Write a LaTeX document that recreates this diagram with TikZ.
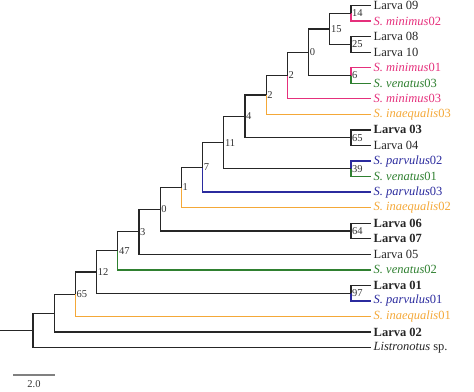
\documentclass[tikz,border=0pt]{standalone}
\usepackage{fontspec}
\setmainfont{Liberation Serif}

\definecolor{cblk}{HTML}{262626}
\definecolor{cmin}{HTML}{E5307C}
\definecolor{cven}{HTML}{2F8030}
\definecolor{cpar}{HTML}{2B2B9E}
\definecolor{cina}{HTML}{F4A838}

\tikzset{
	br/.style={line width=1.3pt},
	sup/.style={font=\fontsize{10.5}{11}\selectfont, text=black!80, inner sep=1pt},
	leaf/.style={anchor=west, inner sep=2.5pt, font=\fontsize{12.5}{13}\selectfont},
}

\begin{document}
\begin{tikzpicture}[x=1pt, y=-1pt]
	\useasboundingbox (0,0) rectangle (474,391);
	
	% --- Các lá (tên mẫu) ---
	\foreach \n/\y/\c/\t in {
		l09/5.5/cblk/{Larva 09},
		smii/21.05/cmin/{\textit{S. minimus}02},
		l08/36.6/cblk/{Larva 08},
		l10/52.15/cblk/{Larva 10},
		smi/67.7/cmin/{\textit{S. minimus}01},
		sviii/83.25/cven/{\textit{S. venatus}03},
		smiii/98.8/cmin/{\textit{S. minimus}03},
		siiii/114.35/cina/{\textit{S. inaequalis}03},
		l03/129.9/cblk/{\textbf{Larva 03}},
		l04/145.45/cblk/{Larva 04},
		spii/161.0/cpar/{\textit{S. parvulus}02},
		svi/176.55/cven/{\textit{S. venatus}01},
		spiii/192.1/cpar/{\textit{S. parvulus}03},
		siii/207.65/cina/{\textit{S. inaequalis}02},
		l06/223.2/cblk/{\textbf{Larva 06}},
		l07/238.75/cblk/{\textbf{Larva 07}},
		l05/254.3/cblk/{Larva 05},
		svii/269.85/cven/{\textit{S. venatus}02},
		l01/285.4/cblk/{\textbf{Larva 01}},
		spi/300.95/cpar/{\textit{S. parvulus}01},
		sii/316.5/cina/{\textit{S. inaequalis}01},
		l02/332.05/cblk/{\textbf{Larva 02}},
		lis/347.6/cblk/{\textit{Listronotus} sp.}}
	{
		\node[leaf, text=\c] (\n) at (371,\y) {\t};
	}
	
	% --- Các nút trong (giá trị bootstrap) ---
	\coordinate[label={[sup]right:14}] (c14) at (351,13.3);
	\coordinate[label={[sup]right:25}] (c25) at (351,44.4);
	\coordinate[label={[sup]right:15}] (c15) at (329.8,28.85);
	\coordinate[label={[sup]right:6}] (c6) at (351,75.5);
	\coordinate[label={[sup]right:0}] (c0a) at (308.6,52.2);
	\coordinate[label={[sup]right:2}] (c2a) at (287.4,75.5);
	\coordinate[label={[sup]right:2}] (c2b) at (266.2,94.9);
	\coordinate[label={[sup]right:65}] (c65a) at (351,137.7);
	\coordinate[label={[sup]right:4}] (c4) at (245,116.3);
	\coordinate[label={[sup]right:39}] (c39) at (351,168.8);
	\coordinate[label={[sup]right:11}] (c11) at (223.8,142.55);
	\coordinate[label={[sup]right:7}] (c7) at (202.6,167.3);
	\coordinate[label={[sup]right:1}] (c1) at (181.4,187.5);
	\coordinate[label={[sup]right:64}] (c64) at (351,231);
	\coordinate[label={[sup]right:0}] (c0b) at (160.2,209.2);
	\coordinate[label={[sup]right:3}] (c3) at (139,231.75);
	\coordinate[label={[sup]right:47}] (c47) at (117.8,250.8);
	\coordinate[label={[sup]right:97}] (c97) at (351,293.2);
	\coordinate[label={[sup]right:12}] (c12) at (96.6,272);
	\coordinate[label={[sup]right:65}] (c65b) at (75.4,294.25);
	\coordinate (c55) at (54.2,313.15);
	\coordinate (croot) at (33,330.4);
	\coordinate (cstem) at (0,330.4);
	
	% --- Các nhánh: cha |- con ---
	\foreach \p/\k/\c in {
		c14/l09.west/cblk, c14/smii.west/cmin,
		c25/l08.west/cblk, c25/l10.west/cblk,
		c15/c14/cblk, c15/c25/cblk,
		c6/smi.west/cmin, c6/sviii.west/cven,
		c0a/c15/cblk, c0a/c6/cblk,
		c2a/c0a/cblk, c2a/smiii.west/cmin,
		c2b/c2a/cblk, c2b/siiii.west/cina,
		c65a/l03.west/cblk, c65a/l04.west/cblk,
		c4/c2b/cblk, c4/c65a/cblk,
		c39/spii.west/cpar, c39/svi.west/cven,
		c11/c4/cblk, c11/c39/cblk,
		c7/c11/cblk, c7/spiii.west/cpar,
		c1/c7/cblk, c1/siii.west/cina,
		c64/l06.west/cblk, c64/l07.west/cblk,
		c0b/c1/cblk, c0b/c64/cblk,
		c3/c0b/cblk, c3/l05.west/cblk,
		c47/c3/cblk, c47/svii.west/cven,
		c97/l01.west/cblk, c97/spi.west/cpar,
		c12/c47/cblk, c12/c97/cblk,
		c65b/c12/cblk, c65b/sii.west/cina,
		c55/c65b/cblk, c55/l02.west/cblk,
		croot/c55/cblk, croot/lis.west/cblk}
	{
		\draw[br, draw=\c] (\p) |- (\k);
	}
	\draw[br, draw=cblk] (cstem) -- (croot);
	
	% --- Thước tỉ lệ ---
	\coordinate (sb1) at (13,375);
	\coordinate (sb2) at (55,375);
	\draw[br, draw=gray] (sb1) -- (sb2) node[midway, below=2pt, font=\fontsize{10.5}{11}\selectfont, text=black!80] (sbl) {2.0};
\end{tikzpicture}
\end{document}
